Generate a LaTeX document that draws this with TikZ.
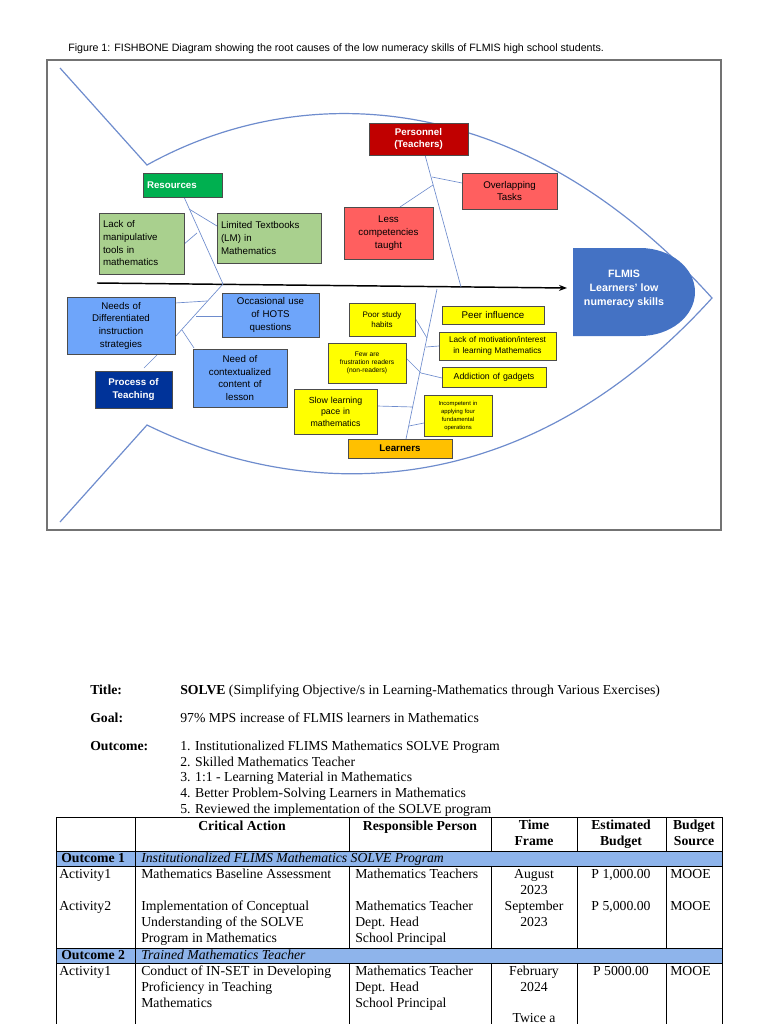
\documentclass[tikz,border=0pt]{standalone}
\usepackage{fontspec}
\setmainfont{Liberation Serif}
\setsansfont{Liberation Sans}
\usetikzlibrary{arrows.meta}
\definecolor{bone}{RGB}{110,140,205}
\definecolor{pers}{RGB}{192,0,0}
\definecolor{lred}{RGB}{255,95,95}
\definecolor{res}{RGB}{0,176,80}
\definecolor{lgreen}{RGB}{169,208,142}
\definecolor{lblue}{RGB}{110,165,250}
\definecolor{dblue}{RGB}{0,51,153}
\definecolor{head}{RGB}{68,114,196}
\definecolor{yel}{RGB}{255,255,0}
\definecolor{orng}{RGB}{255,192,0}
\definecolor{band}{RGB}{142,180,235}
\tikzset{
 bx/.style={draw=black!70, line width=0.6pt, inner sep=0pt, align=center, font=\sffamily\fontsize{7.3}{9.5}\selectfont},
 bxl/.style={bx, align=left},
 bn/.style={draw=bone, line width=0.5pt},
 tt/.style={anchor=base west, inner sep=0pt, font=\fontsize{10.3}{12}\selectfont},
 tc/.style={anchor=base, inner sep=0pt, font=\fontsize{10.3}{12}\selectfont, align=center},
 tb/.style={font=\bfseries\fontsize{10.3}{12}\selectfont},
}
\newcommand\bx[7]{\node[#6, minimum width={(#4-#2)*0.75pt}, minimum height={(#5-#3)*0.75pt}, text width={(#4-#2-8)*0.75pt}] (#1) at ({(#2+#4)/2},{(#3+#5)/2}) {#7};}
\begin{document}
\begin{tikzpicture}[x=0.75pt,y=-0.75pt]
\useasboundingbox (0,0) rectangle (768,1024);
\node[anchor=base west, inner sep=0pt, font=\sffamily\fontsize{8}{9}\selectfont] (cap) at (68,52) {Figure 1: FISHBONE Diagram showing the root causes of the low numeracy skills of FLMIS high school students.};
\draw[black!55, line width=1pt] (47,60) rectangle (721,530);
% fish
\draw[bone, line width=0.9pt] (60,68) -- (147,165) .. controls (300,80) and (520,85) .. (712,298)
  .. controls (520,510) and (300,500) .. (147,425) -- (60,522);
% head
\fill[head] (573,248) -- (640,248) arc[start angle=-90, end angle=90, x radius=55, y radius=44] -- (573,336) -- cycle;
\node[font=\sffamily\bfseries\fontsize{8}{10.5}\selectfont, text=white, align=center] (hd) at (624,289) {FLMIS\\Learners' low\\numeracy skills};
% spine
\coordinate (sL) at (97,283); \coordinate (sR) at (567,288);
\draw[line width=1.1pt, -{Stealth[length=6pt]}] (sL) -- (sR);
% bones
\draw[bn] (184,197) -- (223,284) -- (175,337);
\draw[bn] (157,355) -- (144,368);
\draw[bn] (183,245) -- (197,233);
\draw[bn] (189,209) -- (217,226);
\draw[bn] (175,303) -- (207,301);
\draw[bn] (196,316) -- (222,316);
\draw[bn] (182,330) -- (194,348);
\draw[bn] (425,155) -- (461,287);
\draw[bn] (432,177) -- (462,183);
\draw[bn] (433,185) -- (400,207);
\draw[bn] (437,289) -- (406,439);
\draw[bn] (415,318) -- (427,338);
\draw[bn] (426,347) -- (439,346);
\draw[bn] (406,358) -- (421,373) -- (442,378);
\draw[bn] (377,406) -- (413,407);
\draw[bn] (409,426) -- (424,423);
% boxes
\bx{pe}{369}{123}{468}{155}{bx, fill=pers, text=white, font=\sffamily\bfseries\fontsize{7.3}{9.5}\selectfont}{Personnel\\(Teachers)}
\bx{ov}{462}{173}{557}{209}{bx, fill=lred}{Overlapping\\Tasks}
\bx{lc}{344}{207}{433}{259}{bx, fill=lred}{Less\\competencies\\taught}
\bx{re}{143}{173}{222}{197}{bx, fill=res, text=white, font=\sffamily\bfseries\fontsize{7.3}{9.5}\selectfont, align=left}{Resources}
\bx{lm}{99}{213}{184}{274}{bxl, fill=lgreen}{Lack of\\manipulative\\tools in\\mathematics}
\bx{lt}{217}{213}{321}{263}{bxl, fill=lgreen}{Limited Textbooks\\(LM) in\\Mathematics}
\bx{nd}{67}{297}{175}{354}{bx, fill=lblue}{Needs of\\Differentiated\\instruction\\strategies}
\bx{oc}{222}{293}{319}{337}{bx, fill=lblue}{Occasional use\\of HOTS\\questions}
\bx{nc}{193}{349}{287}{407}{bx, fill=lblue}{Need of\\contextualized\\content of\\lesson}
\bx{pt}{95}{371}{172}{408}{bx, fill=dblue, text=white, font=\sffamily\bfseries\fontsize{7.3}{9.5}\selectfont}{Process of\\Teaching}
\bx{ps}{349}{303}{415}{336}{bx, fill=yel, font=\sffamily\fontsize{6}{8}\selectfont}{Poor study\\habits}
\bx{pi}{442}{306}{544}{324}{bx, fill=yel}{Peer influence}
\bx{lmo}{439}{332}{556}{360}{bx, fill=yel, font=\sffamily\fontsize{6.2}{8}\selectfont}{Lack of motivation/interest\\in learning Mathematics}
\bx{fr}{328}{343}{406}{383}{bx, fill=yel, font=\sffamily\fontsize{5}{6.2}\selectfont}{Few are\\frustration readers\\(non-readers)}
\bx{ad}{442}{367}{546}{387}{bx, fill=yel, font=\sffamily\fontsize{6.6}{8}\selectfont}{Addiction of gadgets}
\bx{sl}{294}{389}{377}{434}{bx, fill=yel, font=\sffamily\fontsize{6.6}{8.6}\selectfont}{Slow learning\\pace in\\mathematics}
\bx{ic}{424}{395}{492}{436}{bx, fill=yel, font=\sffamily\fontsize{4.4}{6}\selectfont}{Incompetent in\\applying four\\fundamental\\operations}
\bx{le}{348}{439}{452}{458}{bx, fill=orng, font=\sffamily\bfseries\fontsize{7.3}{9}\selectfont}{Learners}
% plan text
\node[tt, tb] (t1) at (90,694) {Title:};
\node[tt] (t2) at (180,694) {\textbf{SOLVE} (Simplifying Objective/s in Learning-Mathematics through Various Exercises)};
\node[tt, tb] (g1) at (90,722) {Goal:};
\node[tt] (g2) at (180,722) {97\% MPS increase of FLMIS learners in Mathematics};
\node[tt, tb] (o1) at (90,750) {Outcome:};
\node[tt] (oa) at (180,750) {1. Institutionalized FLIMS Mathematics SOLVE Program};
\node[tt] (ob) at (180,766) {2. Skilled Mathematics Teacher};
\node[tt] (oc2) at (180,781) {3. 1:1 - Learning Material in Mathematics};
\node[tt] (od) at (180,797) {4. Better Problem-Solving Learners in Mathematics};
\node[tt] (oe) at (180,813) {5. Reviewed the implementation of the SOLVE program};
% table
\fill[band] (56,851) rectangle (722,866);
\fill[band] (56,948) rectangle (722,963);
\draw[line width=0.7pt] (56,1030) -- (56,817) -- (722,817) -- (722,1030);
\draw[line width=0.7pt] (56,851) -- (722,851) (56,866) -- (722,866) (56,948) -- (722,948) (56,963) -- (722,963);
\draw[line width=0.7pt] (135,817) -- (135,1030);
\foreach \x in {349,491,577,666} {\draw[line width=0.7pt] (\x,817) -- (\x,851) (\x,866) -- (\x,948) (\x,963) -- (\x,1030);}
\node[tc, tb] (h1) at (242,830) {Critical Action};
\node[tc, tb] (h2) at (420,830) {Responsible Person};
\node[tc, tb, anchor=north] (h3) at (534,820) {Time\\Frame};
\node[tc, tb, anchor=north] (h4) at (621,820) {Estimated\\Budget};
\node[tc, tb, anchor=north] (h5) at (694,820) {Budget\\Source};
\node[tt, tb] (r1) at (61,862) {Outcome 1};
\node[tt, font=\itshape\fontsize{10.3}{12}\selectfont] (r1b) at (141,862) {Institutionalized FLIMS Mathematics SOLVE Program};
\node[tt] (a1) at (59,878) {Activity1};
\node[tt] (a1b) at (141,878) {Mathematics Baseline Assessment};
\node[tt] (a1c) at (355,878) {Mathematics Teachers};
\node[tc, anchor=north] (a1d) at (534,869) {August\\2023};
\node[tc] (a1e) at (621,878) {P 1,000.00};
\node[tt] (a1f) at (670,878) {MOOE};
\node[tt] (a2) at (59,910) {Activity2};
\node[tt, anchor=north west, align=left] (a2b) at (141,901) {Implementation of Conceptual\\Understanding of the SOLVE\\Program in Mathematics};
\node[tt, anchor=north west, align=left] (a2c) at (355,901) {Mathematics Teacher\\Dept. Head\\School Principal};
\node[tc, anchor=north] (a2d) at (534,901) {September\\2023};
\node[tc] (a2e) at (621,910) {P 5,000.00};
\node[tt] (a2f) at (670,910) {MOOE};
\node[tt, tb] (r2) at (61,959) {Outcome 2};
\node[tt, font=\itshape\fontsize{10.3}{12}\selectfont] (r2b) at (141,959) {Trained Mathematics Teacher};
\node[tt] (b1) at (59,975) {Activity1};
\node[tt, anchor=north west, align=left] (b1b) at (141,966) {Conduct of IN-SET in Developing\\Proficiency in Teaching\\Mathematics};
\node[tt, anchor=north west, align=left] (b1c) at (355,966) {Mathematics Teacher\\Dept. Head\\School Principal};
\node[tc, anchor=north] (b1d) at (534,966) {February\\2024};
\node[tc] (b1g) at (534,1022) {Twice a};
\node[tc] (b1e) at (621,975) {P 5000.00};
\node[tt] (b1f) at (670,975) {MOOE};
\end{tikzpicture}
\end{document}
